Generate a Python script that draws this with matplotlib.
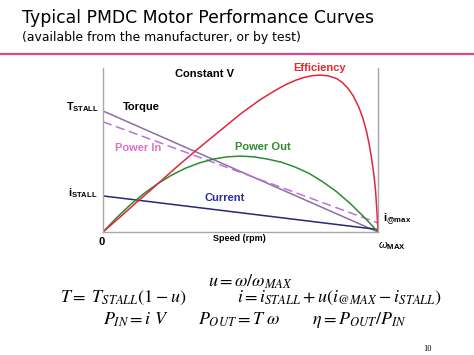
import matplotlib
matplotlib.use("Agg")
import matplotlib.pyplot as plt

plt.rcParams['mathtext.fontset'] = 'custom'
plt.rcParams['mathtext.bf'] = 'Liberation Sans:bold'
plt.rcParams['mathtext.rm'] = 'Liberation Sans'
plt.rcParams['mathtext.it'] = 'Liberation Sans:italic'

# speed as fraction of omega_max (axis units 0..1)
u_lin = [0.0, 1.0]
torque = [0.738, 0.0]
power_in = [0.672, 0.055]
current = [0.22, 0.015]

u_out = [0.0, 0.05, 0.1, 0.15, 0.2, 0.25, 0.3, 0.35, 0.4, 0.45, 0.5,
         0.55, 0.6, 0.65, 0.7, 0.75, 0.8, 0.85, 0.9, 0.95, 1.0]
power_out = [0.0, 0.088, 0.167, 0.236, 0.296, 0.347, 0.389, 0.421, 0.444, 0.458, 0.463,
             0.458, 0.444, 0.425, 0.395, 0.357, 0.305, 0.245, 0.172, 0.09, 0.0]

u_eff = [0.0, 0.06, 0.12, 0.18, 0.26, 0.34, 0.42, 0.5, 0.57, 0.62, 0.66, 0.7,
         0.73, 0.76, 0.79, 0.82, 0.85, 0.87, 0.89, 0.91, 0.93, 0.945, 0.958,
         0.968, 0.977, 0.985, 0.991, 0.996, 1.0]
efficiency = [0.0, 0.088, 0.178, 0.265, 0.385, 0.5, 0.61, 0.72, 0.805, 0.857, 0.895, 0.925,
              0.942, 0.953, 0.957, 0.952, 0.935, 0.912, 0.878, 0.83, 0.762, 0.695, 0.615,
              0.535, 0.445, 0.35, 0.255, 0.13, 0.0]

fig = plt.figure(figsize=(4.74, 3.55), dpi=100)

# heading
fig.text(22 / 474, 1 - 18 / 355, "Typical PMDC Motor Performance Curves",
         fontsize=12.4, family='DejaVu Sans', va='center', ha='left')
fig.text(22 / 474, 1 - 38 / 355, "(available from the manufacturer, or by test)",
         fontsize=8.9, family='DejaVu Sans', va='center', ha='left')
fig.add_artist(plt.Line2D([0, 1], [1 - 54 / 355, 1 - 54 / 355], color='#E2458E', lw=1.6))

ax = fig.add_axes([103 / 474, 1 - 232 / 355, 275 / 474, 164 / 355])
ax.set_xlim(0, 1)
ax.set_ylim(0, 1)
ax.set_xticks([])
ax.set_yticks([])
ax.spines['top'].set_visible(False)
for s in ['left', 'bottom', 'right']:
    ax.spines[s].set_color('#A8A8A8')
    ax.spines[s].set_linewidth(1.0)

ax.plot(u_lin, torque, color='#8B6F9E', lw=1.1)
ax.plot(u_lin, power_in, color='#C070D8', lw=1.1, ls=(0, (6, 3)))
ax.plot(u_lin, current, color='#26267A', lw=1.1)
ax.plot(u_out, power_out, color='#2E8B2E', lw=1.1)
ax.plot(u_eff, efficiency, color='#E0263C', lw=1.1)

lab = dict(fontsize=8, family='Liberation Sans', fontweight='bold', va='center')
ax.text(0.368, 0.966, "Constant V", color='black', ha='center', **lab)
ax.text(0.788, 1.0, "Efficiency", color='#E8262E', ha='center', clip_on=False, **lab)
ax.text(0.073, 0.764, "Torque", color='black', ha='left', **lab)
ax.text(0.043, 0.513, "Power In", color='#E070C8', ha='left', **lab)
ax.text(0.581, 0.52, "Power Out", color='#2E8A2E', ha='center', **lab)
ax.text(0.441, 0.205, "Current", color='#2B2B9A', ha='center', **lab)
ax.text(0.497, -0.04, "Speed (rpm)", color='black', ha='center', fontsize=6.5,
        family='Liberation Sans', fontweight='bold', va='center')
ax.text(-0.005, -0.058, "0", color='black', ha='center', **lab)

ax.text(-0.013, 0.762, r'$\mathbf{T}_{\mathbf{STALL}}$', ha='right', va='center', fontsize=7.8)
ax.text(-0.022, 0.237, r'$\mathbf{i}_{\mathbf{STALL}}$', ha='right', va='center', fontsize=7.8)
ax.text(1.018, 0.08, r'$\mathbf{i}_{\mathbf{@max}}$', ha='left', va='center', fontsize=8)
ax.text(1.0, -0.08, r'$\omega_{\mathbf{MAX}}$', ha='left', va='center', fontsize=8)

# equations
eq = dict(fontsize=13, math_fontfamily='stix', va='center')
fig.text(250 / 474, 1 - 282 / 355, r'$u = \omega/\omega_{MAX}$', ha='center', **eq)
fig.text(60 / 474, 1 - 298 / 355, r'$T =\ T_{STALL}(1 - u)$', ha='left', **eq)
fig.text(237 / 474, 1 - 298 / 355, r'$i = i_{STALL} + u(i_{@MAX} - i_{STALL})$', ha='left', **eq)
fig.text(103 / 474, 1 - 320 / 355, r'$P_{IN} = i\ V$', ha='left', **eq)
fig.text(198 / 474, 1 - 320 / 355, r'$P_{OUT} = T\ \omega$', ha='left', **eq)
fig.text(312 / 474, 1 - 320 / 355, r'$\eta = P_{OUT}/P_{IN}$', ha='left', **eq)
fig.text(428 / 474, 1 - 349 / 355, "10", fontsize=6, family='Liberation Serif',
         ha='center', va='center')

fig.savefig("out.png", dpi=100)
